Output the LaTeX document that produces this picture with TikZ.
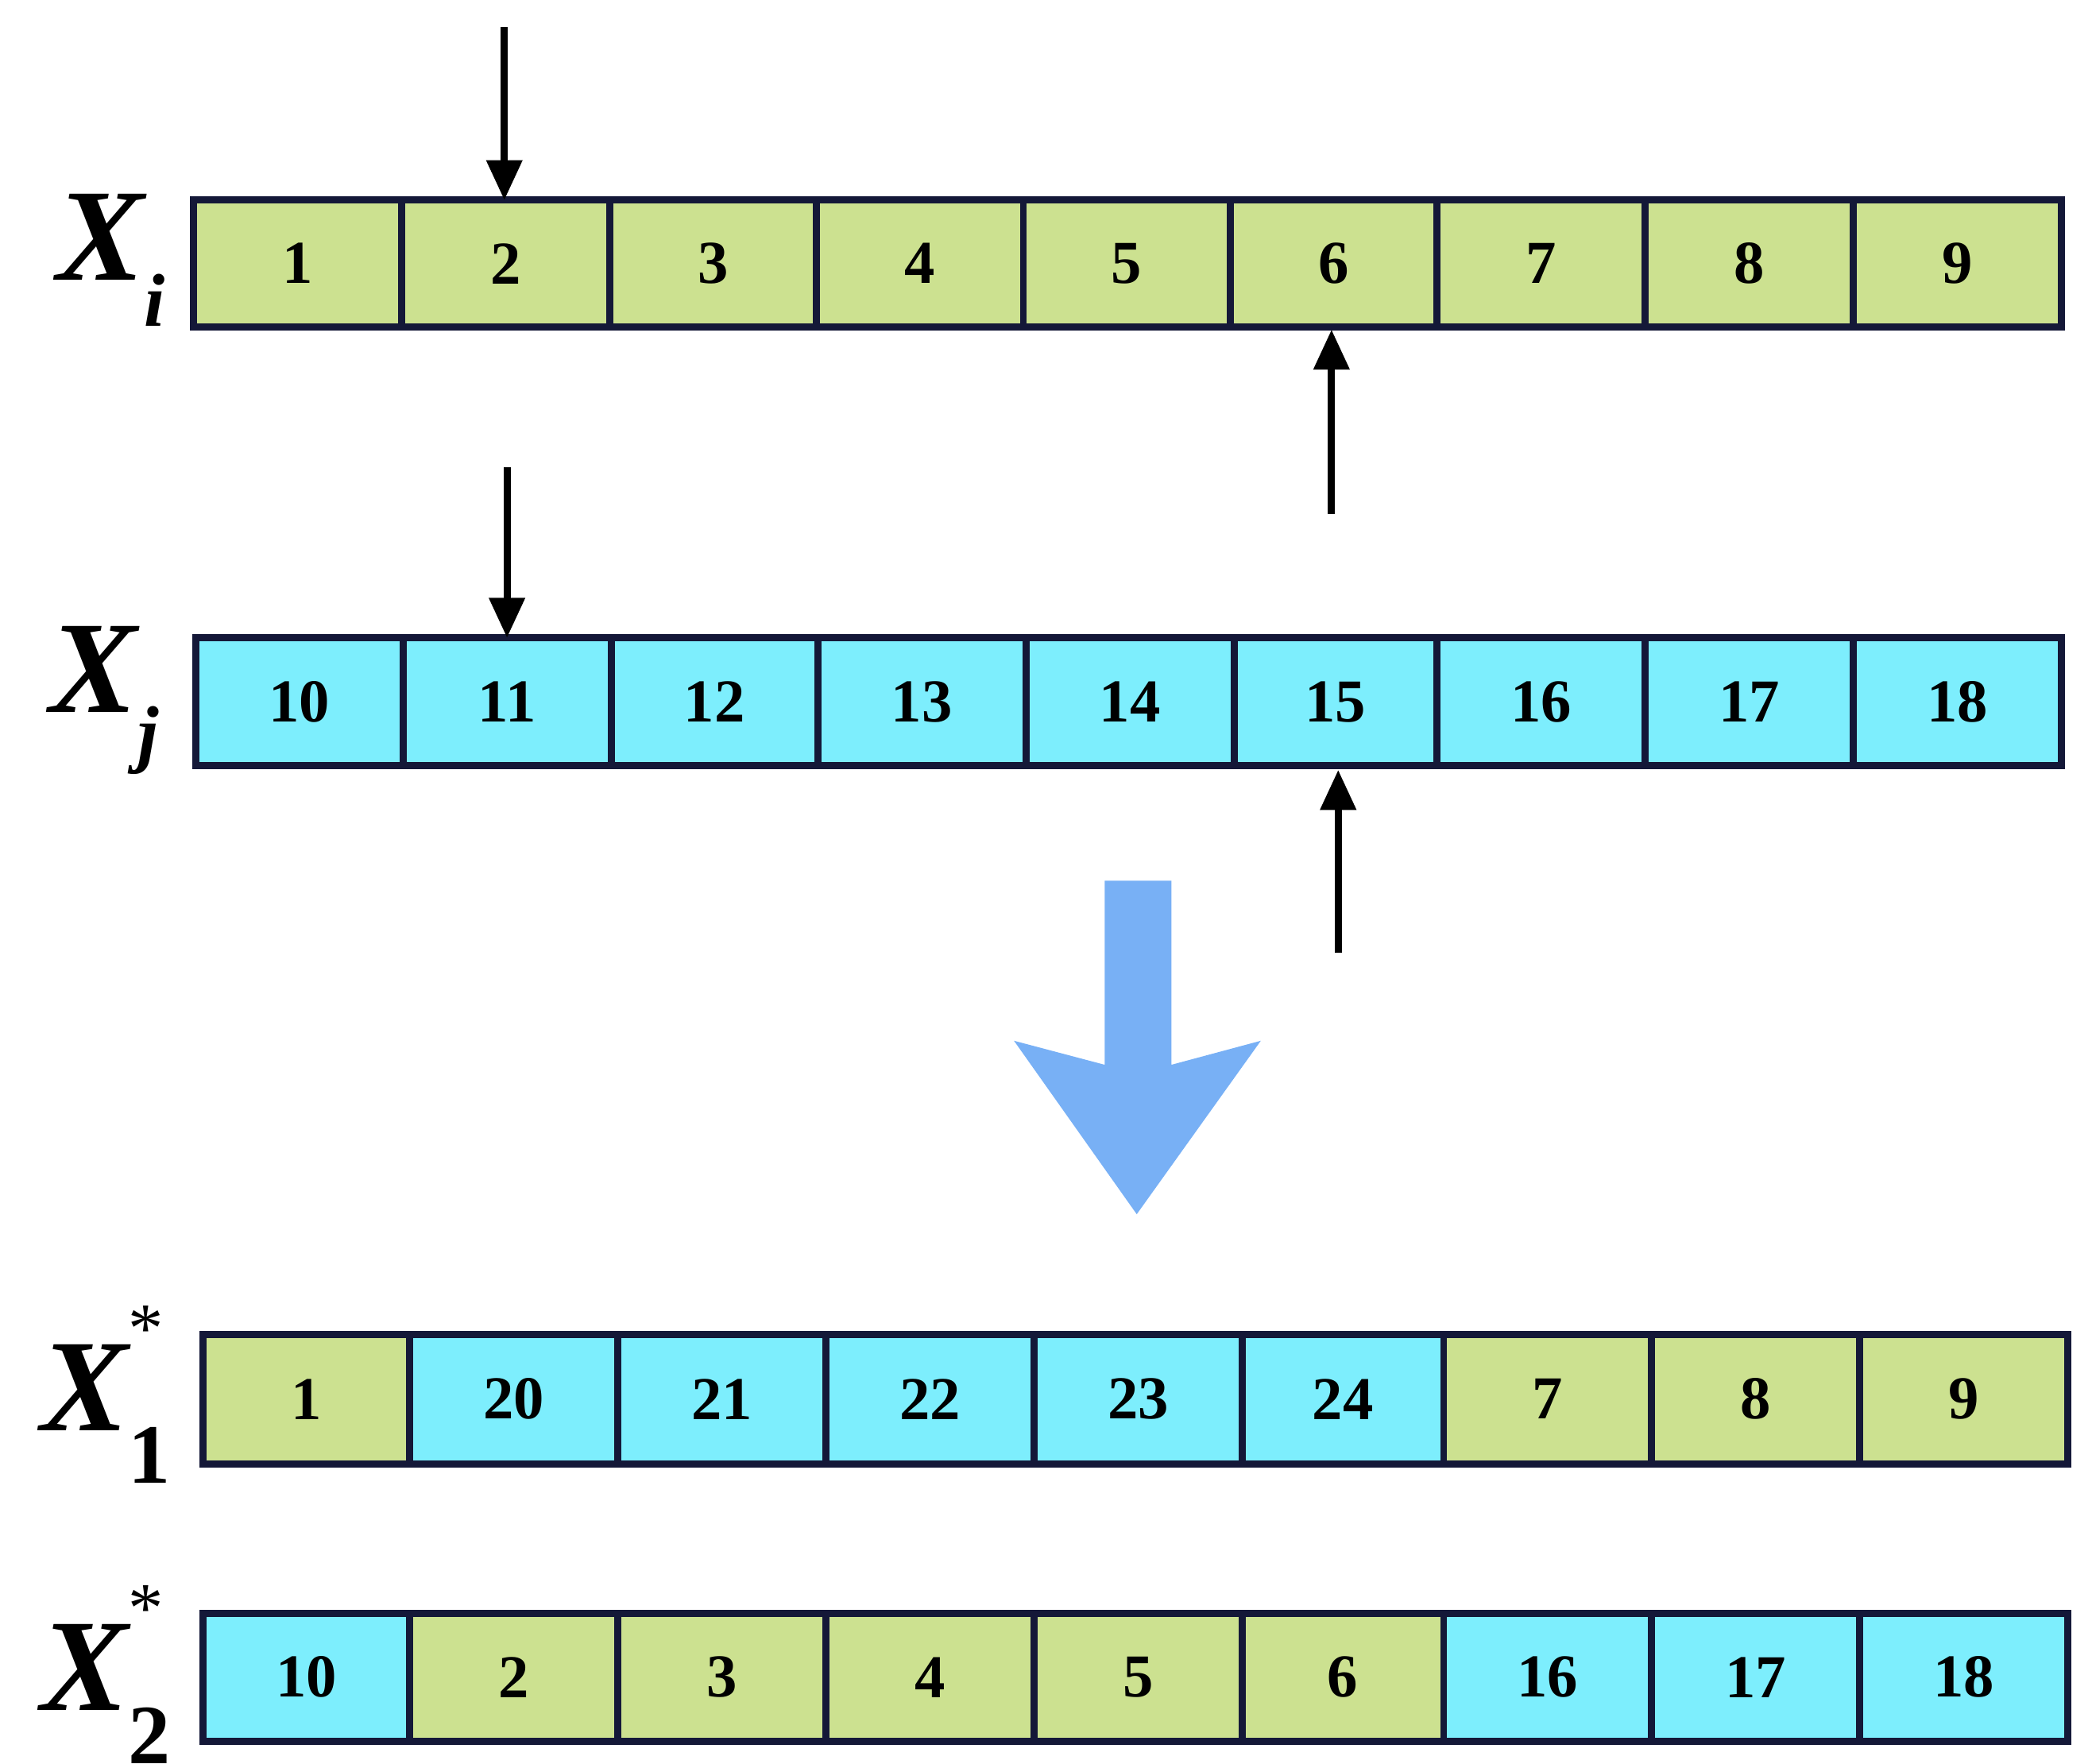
\documentclass[tikz,border=0pt]{standalone}
\usepackage{fontspec}
\setmainfont{Liberation Serif}
\usetikzlibrary{arrows.meta}
\definecolor{gr}{HTML}{CCE190}
\definecolor{cy}{HTML}{7DEEFD}
\definecolor{bd}{HTML}{141838}
\definecolor{big}{HTML}{78B0F5}
\tikzset{cell/.style={draw=bd,line width=1.5pt,font=\bfseries\fontsize{13}{15}\selectfont},
ptr/.style={line width=1.5pt,-{Triangle[length=0.3cm,width=0.26cm]}},
lab/.style={font=\bfseries\itshape\fontsize{28}{30}\selectfont}}
\newcommand{\cellrow}[5]{% name, ytop, ybot, xs list, entries
 \foreach \a/\b/\c/\t [count=\k] in {#4}{
  \filldraw[cell,fill=\c] (\a/100,-#2/100) rectangle (\b/100,-#3/100);
  \node[font=\bfseries\fontsize{13}{15}\selectfont] (#1\k) at ({(\a+\b)/200},{-(#2+#3)/200}) {\t};}}
\begin{document}
\begin{tikzpicture}
\useasboundingbox (0,0) rectangle (15.68,-13.22);
\cellrow{a}{150}{245}{145/301/gr/1,301/457/gr/2,457/612/gr/3,612/767/gr/4,767/922/gr/5,922/1077/gr/6,1077/1233/gr/7,1233/1389/gr/8,1389/1545/gr/9}{}
\cellrow{b}{478}{574}{147/302/cy/10,302/458/cy/11,458/613/cy/12,613/769/cy/13,769/925/cy/14,925/1077/cy/15,1077/1233/cy/16,1233/1389/cy/17,1389/1545/cy/18}{}
\cellrow{c}{1000}{1097}{152/307/gr/1,307/463/cy/20,463/619/cy/21,619/775/cy/22,775/931/cy/23,931/1082/cy/24,1082/1238/gr/7,1238/1394/gr/8,1394/1550/gr/9}{}
\cellrow{d}{1209}{1305}{152/307/cy/10,307/463/gr/2,463/619/gr/3,619/775/gr/4,775/931/gr/5,931/1082/gr/6,1082/1238/cy/16,1238/1394/cy/17,1394/1550/cy/18}{}
\coordinate (p1) at (3.78,-0.2); \coordinate (q1) at (3.78,-1.5);
\coordinate (p2) at (9.98,-3.85); \coordinate (q2) at (9.98,-2.47);
\coordinate (p3) at (3.80,-3.5); \coordinate (q3) at (3.80,-4.78);
\coordinate (p4) at (10.03,-7.14); \coordinate (q4) at (10.03,-5.77);
\draw[ptr] (p1)--(q1); \draw[ptr] (p2)--(q2); \draw[ptr] (p3)--(q3); \draw[ptr] (p4)--(q4);
\fill[big] (8.28,-6.60) -- (8.78,-6.60) -- (8.78,-7.98) -- (9.45,-7.80) -- (8.52,-9.10) -- (7.60,-7.80) -- (8.28,-7.98) -- cycle;
\node[lab,anchor=west] (li) at (0.30,-1.95) {X\raisebox{-0.35em}{\fontsize{16}{18}\selectfont i}};
\node[lab,anchor=west] (lj) at (0.25,-5.25) {X\raisebox{-0.35em}{\fontsize{16}{18}\selectfont j}};
\node[lab,anchor=west] (l1) at (0.18,-10.45) {X\rlap{\raisebox{0.6em}{\fontsize{15}{17}\selectfont\mdseries\upshape *}}\raisebox{-0.4em}{\fontsize{18}{20}\selectfont\upshape 1}};
\node[lab,anchor=west] (l2) at (0.18,-12.55) {X\rlap{\raisebox{0.6em}{\fontsize{15}{17}\selectfont\mdseries\upshape *}}\raisebox{-0.4em}{\fontsize{18}{20}\selectfont\upshape 2}};
\end{tikzpicture}
\end{document}
